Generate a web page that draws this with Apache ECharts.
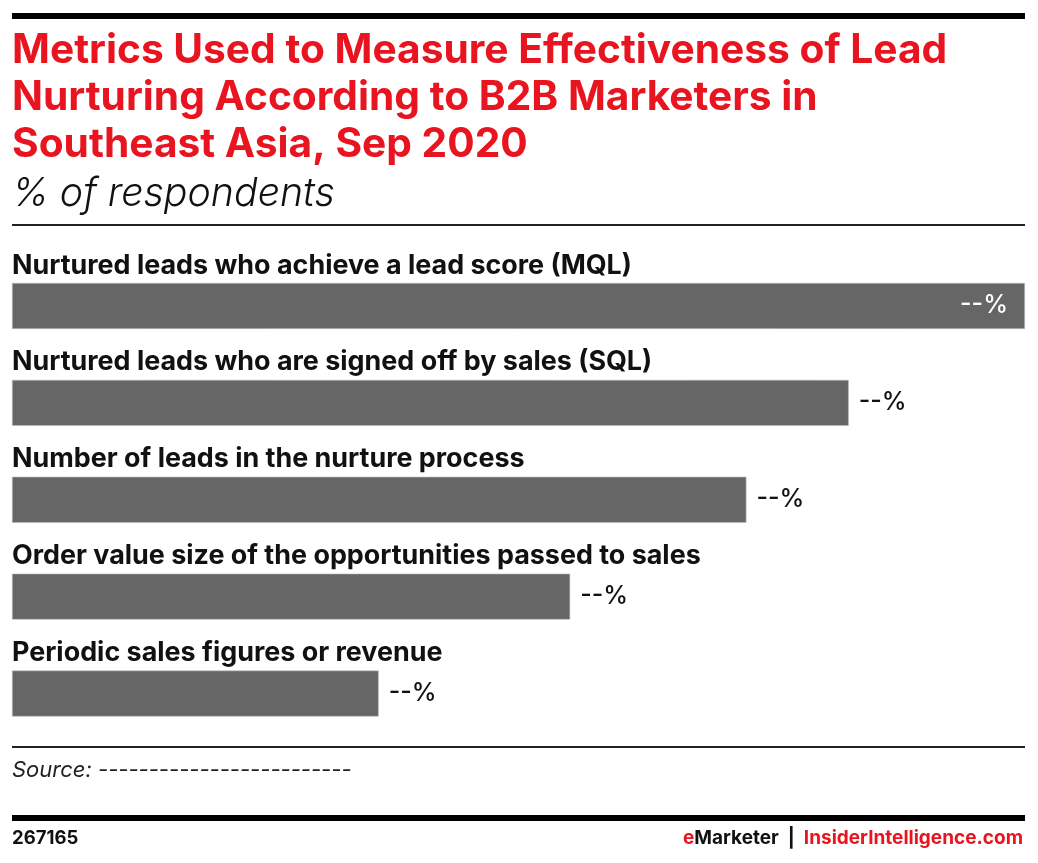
<!DOCTYPE html>
<html>
<head>
<meta charset="utf-8">
<script src="https://cdn.jsdelivr.net/npm/echarts@6/dist/echarts.min.js"></script>
<style>
html,body{margin:0;padding:0;background:#fff;}
#c{width:1038px;height:863px;}
</style>
</head>
<body>
<div id="c"></div>
<script>
// ---- data ----
const categories = [
  'Nurtured leads who achieve a lead score (MQL)',
  'Nurtured leads who are signed off by sales (SQL)',
  'Number of leads in the nurture process',
  'Order value size of the opportunities passed to sales',
  'Periodic sales figures or revenue'
];
// values hidden in the source ("--%") (share of the longest bar)
const values = [100, 82.6, 72.5, 55.1, 36.2];
const valueLabels = ['--%', '--%', '--%', '--%', '--%'];
const titleText = 'Metrics Used to Measure Effectiveness of Lead\nNurturing According to B2B Marketers in\nSoutheast Asia, Sep 2020';
const subtitleText = '% of respondents';
const sourceText = 'Source: -------------------------';
const chartId = '267165';

const RED = '#e8141f';
const FONT = 'Inter, "Open Sans", sans-serif';

const chart = echarts.init(document.getElementById('c'), null, {renderer: 'canvas'});

const option = {
  backgroundColor: '#ffffff',
  animation: false,
  title: [
    {
      text: titleText, left: 12, top: 27.5, padding: 0,
      textStyle: {color: RED, fontFamily: FONT, fontWeight: 'bold', fontSize: 40.7, lineHeight: 47}
    },
    {
      text: subtitleText, left: 12, top: 173.5, padding: 0,
      textStyle: {color: '#111', fontFamily: FONT, fontStyle: 'italic', fontWeight: 300, fontSize: 39.3, lineHeight: 42}
    },
    {
      text: sourceText, left: 12, top: 758, padding: 0,
      textStyle: {color: '#222', fontFamily: FONT, fontStyle: 'italic', fontWeight: 'normal', fontSize: 22, lineHeight: 24}
    },
    {
      text: chartId, left: 12, top: 828, padding: 0,
      textStyle: {color: '#111', fontFamily: FONT, fontWeight: 'bold', fontSize: 18.5, lineHeight: 20}
    },
    {
      text: '{r|e}{k|Marketer}{k|  |  }{r|InsiderIntelligence.com}', right: 15, top: 827, padding: 0,
      textStyle: {
        rich: {
          r: {color: RED, fontFamily: FONT, fontWeight: 'bold', fontSize: 19, lineHeight: 22},
          k: {color: '#111', fontFamily: FONT, fontWeight: 'bold', fontSize: 19, lineHeight: 22}
        }
      }
    }
  ],
  graphic: [
    {type: 'rect', shape: {x: 12, y: 13, width: 1013, height: 6}, style: {fill: '#000'}},
    {type: 'rect', shape: {x: 12, y: 224, width: 1013, height: 2}, style: {fill: '#222'}},
    {type: 'rect', shape: {x: 12, y: 746, width: 1013, height: 2}, style: {fill: '#222'}},
    {type: 'rect', shape: {x: 12, y: 815, width: 1013, height: 6}, style: {fill: '#000'}}
  ],
  grid: {left: 12, right: 13, top: 257.5, bottom: 121, containLabel: false},
  xAxis: {
    type: 'value', min: 0, max: 100,
    show: false
  },
  yAxis: {
    type: 'category', data: categories, inverse: true,
    show: false
  },
  series: [
    {
      type: 'bar',
      data: values.map((v, i) => ({
        value: v,
        label: i === 0
          ? {position: 'insideRight', distance: 17, color: '#fff'}
          : {position: 'right', distance: 10, color: '#111'}
      })),
      barWidth: 46,
      itemStyle: {color: '#666666', borderColor: '#bdbdbd', borderWidth: 0.6},
      label: {
        show: true,
        fontFamily: FONT, fontSize: 25, fontWeight: 500,
        formatter: p => valueLabels[p.dataIndex]
      },
      silent: true
    },
    {
      type: 'bar',
      data: values,
      barWidth: 46,
      barGap: '-100%',
      itemStyle: {color: 'rgba(0,0,0,0)'},
      label: {
        show: true,
        position: [0, -4],
        align: 'left',
        verticalAlign: 'bottom',
        color: '#111',
        fontFamily: FONT, fontSize: 26.9, fontWeight: 'bold',
        formatter: p => categories[p.dataIndex]
      },
      silent: true
    }
  ]
};
chart.setOption(option);
</script>
</body>
</html>
